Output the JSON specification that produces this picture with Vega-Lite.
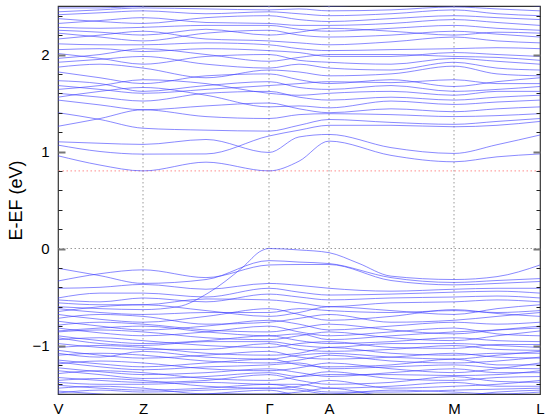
{
  "$schema": "https://vega.github.io/schema/vega-lite/v6.json",
  "width": 482,
  "height": 388,
  "autosize": "none",
  "padding": {"left": 58, "top": 6, "right": 10, "bottom": 24},
  "config": {"view": {"stroke": "#333333", "strokeWidth": 1.2}, "font": "Liberation Sans"},
  "datasets": {
    "bands": [
      {"b": "c1", "x": [0,42,85,148,211,241,271,333,396,439,482], "e": [0.956,0.86,0.80,0.89,0.80,0.90,1.107,0.96,0.894,0.945,0.975]},
      {"b": "c2", "x": [0,42,85,148,211,241,271,333,396,439,482], "e": [1.10,1.085,1.073,1.124,0.99,1.15,1.176,1.04,0.98,1.07,1.17]},
      {"b": "c3", "x": [0,42,85,148,211,241,271,333,396,439,482], "e": [1.066,1.00,0.973,0.975,1.16,1.22,1.27,1.27,1.255,1.27,1.31]},
      {"b": "c4", "x": [0,42,85,148,211,241,271,333,396,439,482], "e": [1.26,1.34,1.43,1.36,1.34,1.38,1.39,1.38,1.36,1.37,1.39]},
      {"b": "c5", "x": [0,42,85,148,211,241,271,333,396,439,482], "e": [1.40,1.33,1.24,1.22,1.21,1.27,1.33,1.30,1.28,1.31,1.34]},
      {"b": "u1", "x": [0,42,85,148,211,241,271,333,396,439,482], "e": [1.53,1.48,1.43,1.47,1.50,1.44,1.40,1.44,1.41,1.44,1.46]},
      {"b": "u2", "x": [0,42,85,148,211,241,271,333,396,439,482], "e": [1.56,1.62,1.66,1.58,1.46,1.47,1.45,1.52,1.485,1.51,1.53]},
      {"b": "u3", "x": [0,42,85,148,211,241,271,333,396,439,482], "e": [1.60,1.56,1.52,1.60,1.62,1.56,1.53,1.56,1.53,1.56,1.58]},
      {"b": "u4", "x": [0,42,85,148,211,241,271,333,396,439,482], "e": [1.64,1.68,1.74,1.70,1.60,1.58,1.60,1.62,1.58,1.62,1.62]},
      {"b": "u5", "x": [0,42,85,148,211,241,271,333,396,439,482], "e": [1.73,1.70,1.62,1.68,1.72,1.66,1.64,1.68,1.62,1.64,1.67]},
      {"b": "u6", "x": [0,42,85,148,211,241,271,333,396,439,482], "e": [1.82,1.76,1.70,1.78,1.80,1.74,1.70,1.74,1.67,1.72,1.76]},
      {"b": "u7", "x": [0,42,85,148,211,241,271,333,396,439,482], "e": [1.87,1.90,1.86,1.76,1.84,1.82,1.78,1.80,1.88,1.80,1.78]},
      {"b": "u8", "x": [0,42,85,148,211,241,271,333,396,439,482], "e": [1.92,1.95,1.98,1.90,1.86,1.90,1.86,1.84,1.92,1.86,1.84]},
      {"b": "u9", "x": [0,42,85,148,211,241,271,333,396,439,482], "e": [2.01,1.96,1.90,1.98,2.00,1.94,1.92,1.90,1.96,1.93,1.90]},
      {"b": "u10", "x": [0,42,85,148,211,241,271,333,396,439,482], "e": [2.05,2.06,2.03,2.06,2.04,2.02,1.98,1.98,2.02,2.00,1.98]},
      {"b": "u11", "x": [0,42,85,148,211,241,271,333,396,439,482], "e": [2.11,2.10,2.10,2.12,2.10,2.06,2.04,2.05,2.06,2.07,2.06]},
      {"b": "u12", "x": [0,42,85,148,211,241,271,333,396,439,482], "e": [2.16,2.20,2.24,2.16,2.14,2.12,2.10,2.13,2.18,2.14,2.12]},
      {"b": "u13", "x": [0,42,85,148,211,241,271,333,396,439,482], "e": [2.22,2.18,2.14,2.22,2.25,2.20,2.18,2.20,2.24,2.21,2.18]},
      {"b": "u14", "x": [0,42,85,148,211,241,271,333,396,439,482], "e": [2.28,2.27,2.28,2.30,2.30,2.26,2.24,2.27,2.30,2.27,2.25]},
      {"b": "u15", "x": [0,42,85,148,211,241,271,333,396,439,482], "e": [2.32,2.35,2.38,2.33,2.32,2.30,2.30,2.32,2.36,2.33,2.30]},
      {"b": "u16", "x": [0,42,85,148,211,241,271,333,396,439,482], "e": [2.37,2.34,2.32,2.38,2.40,2.36,2.34,2.37,2.40,2.38,2.36]},
      {"b": "u17", "x": [0,42,85,148,211,241,271,333,396,439,482], "e": [2.41,2.43,2.45,2.42,2.44,2.42,2.40,2.42,2.46,2.42,2.40]},
      {"b": "u18", "x": [0,42,85,148,211,241,271,333,396,439,482], "e": [2.44,2.46,2.48,2.47,2.46,2.47,2.45,2.46,2.49,2.47,2.45]},
      {"b": "u19", "x": [0,42,85,148,211,241,271,333,396,439,482], "e": [2.48,2.48,2.50,2.52,2.50,2.52,2.50,2.52,2.53,2.52,2.50]},
      {"b": "u20", "x": [0,42,85,148,211,241,271,333,396,439,482], "e": [1.96,2.00,2.06,2.00,1.93,1.97,2.00,2.00,1.98,1.97,1.94]},
      {"b": "u21", "x": [0,42,85,148,211,241,271,333,396,439,482], "e": [2.25,2.23,2.20,2.26,2.20,2.23,2.27,2.24,2.20,2.23,2.22]},
      {"b": "u22", "x": [0,42,85,148,211,241,271,333,396,439,482], "e": [1.68,1.64,1.60,1.64,1.68,1.70,1.72,1.71,1.74,1.70,1.70]},
      {"b": "v1", "x": [0,42,85,120,150,184,204,211,241,271,300,333,396,439,482], "e": [-0.60,-0.62,-0.63,-0.60,-0.46,-0.20,-0.02,0.0,-0.015,-0.043,-0.15,-0.285,-0.32,-0.29,-0.17]},
      {"b": "v2", "x": [0,42,85,148,211,241,271,333,396,439,482], "e": [-0.335,-0.26,-0.22,-0.30,-0.17,-0.165,-0.165,-0.33,-0.375,-0.36,-0.34]},
      {"b": "v3", "x": [0,42,85,148,211,241,271,333,396,439,482], "e": [-0.204,-0.28,-0.36,-0.32,-0.125,-0.14,-0.155,-0.30,-0.35,-0.33,-0.31]},
      {"b": "v4", "x": [0,42,85,148,211,241,271,333,396,439,482], "e": [-0.41,-0.40,-0.37,-0.42,-0.36,-0.38,-0.41,-0.44,-0.42,-0.41,-0.41]},
      {"b": "v5", "x": [0,42,85,148,211,241,271,333,396,439,482], "e": [-0.51,-0.46,-0.46,-0.50,-0.41,-0.45,-0.48,-0.47,-0.45,-0.44,-0.46]},
      {"b": "v6", "x": [0,42,85,148,211,241,271,333,396,439,482], "e": [-0.53,-0.55,-0.51,-0.55,-0.47,-0.50,-0.53,-0.51,-0.50,-0.49,-0.51]},
      {"b": "v7", "x": [0,42,85,148,211,241,271,333,396,439,482], "e": [-0.56,-0.58,-0.58,-0.52,-0.53,-0.56,-0.60,-0.56,-0.55,-0.53,-0.55]},
      {"b": "v8", "x": [0,42,85,148,211,241,271,333,396,439,482], "e": [-0.65,-0.60,-0.58,-0.64,-0.70,-0.66,-0.60,-0.64,-0.68,-0.62,-0.58]},
      {"b": "v9", "x": [0,42,85,148,211,241,271,333,396,439,482], "e": [-0.68,-0.73,-0.76,-0.70,-0.62,-0.68,-0.74,-0.70,-0.63,-0.67,-0.70]},
      {"b": "v10", "x": [0,42,85,148,211,241,271,333,396,439,482], "e": [-0.72,-0.68,-0.70,-0.78,-0.76,-0.72,-0.68,-0.76,-0.74,-0.70,-0.66]},
      {"b": "v11", "x": [0,42,85,148,211,241,271,333,396,439,482], "e": [-0.75,-0.80,-0.84,-0.80,-0.74,-0.78,-0.84,-0.80,-0.76,-0.78,-0.76]},
      {"b": "v12", "x": [0,42,85,148,211,241,271,333,396,439,482], "e": [-0.79,-0.76,-0.78,-0.84,-0.86,-0.82,-0.78,-0.84,-0.88,-0.84,-0.80]},
      {"b": "v13", "x": [0,42,85,148,211,241,271,333,396,439,482], "e": [-0.82,-0.87,-0.90,-0.86,-0.80,-0.86,-0.90,-0.86,-0.82,-0.88,-0.90]},
      {"b": "v14", "x": [0,42,85,148,211,241,271,333,396,439,482], "e": [-0.86,-0.84,-0.86,-0.92,-0.94,-0.90,-0.86,-0.92,-0.95,-0.90,-0.85]},
      {"b": "v15", "x": [0,42,85,148,211,241,271,333,396,439,482], "e": [-0.90,-0.95,-0.98,-0.95,-0.90,-0.95,-0.98,-0.96,-0.92,-0.95,-0.96]},
      {"b": "v16", "x": [0,42,85,148,211,241,271,333,396,439,482], "e": [-0.94,-0.92,-0.95,-1.00,-1.02,-0.98,-0.96,-1.02,-1.03,-0.99,-0.99]},
      {"b": "v17", "x": [0,42,85,148,211,241,271,333,396,439,482], "e": [-0.98,-1.02,-1.04,-1.04,-0.98,-1.04,-1.06,-1.04,-1.00,-1.04,-1.05]},
      {"b": "v18", "x": [0,42,85,148,211,241,271,333,396,439,482], "e": [-1.02,-1.00,-1.02,-1.08,-1.10,-1.08,-1.02,-1.08,-1.10,-1.08,-1.08]},
      {"b": "v19", "x": [0,42,85,148,211,241,271,333,396,439,482], "e": [-1.05,-1.10,-1.13,-1.10,-1.06,-1.12,-1.14,-1.12,-1.08,-1.12,-1.13]},
      {"b": "v20", "x": [0,42,85,148,211,241,271,333,396,439,482], "e": [-1.10,-1.08,-1.10,-1.16,-1.18,-1.15,-1.10,-1.16,-1.18,-1.16,-1.12]},
      {"b": "v21", "x": [0,42,85,148,211,241,271,333,396,439,482], "e": [-1.15,-1.19,-1.22,-1.18,-1.14,-1.20,-1.22,-1.20,-1.14,-1.20,-1.20]},
      {"b": "v22", "x": [0,42,85,148,211,241,271,333,396,439,482], "e": [-1.19,-1.16,-1.18,-1.24,-1.26,-1.23,-1.18,-1.24,-1.28,-1.24,-1.18]},
      {"b": "v23", "x": [0,42,85,148,211,241,271,333,396,439,482], "e": [-1.23,-1.27,-1.30,-1.28,-1.24,-1.28,-1.32,-1.28,-1.24,-1.28,-1.28]},
      {"b": "v24", "x": [0,42,85,148,211,241,271,333,396,439,482], "e": [-1.29,-1.26,-1.28,-1.34,-1.36,-1.32,-1.27,-1.34,-1.36,-1.33,-1.32]},
      {"b": "v25", "x": [0,42,85,148,211,241,271,333,396,439,482], "e": [-1.33,-1.36,-1.38,-1.36,-1.30,-1.36,-1.40,-1.38,-1.32,-1.37,-1.38]},
      {"b": "v26", "x": [0,42,85,148,211,241,271,333,396,439,482], "e": [-1.36,-1.34,-1.36,-1.42,-1.44,-1.42,-1.36,-1.44,-1.42,-1.40,-1.36]},
      {"b": "v27", "x": [0,42,85,148,211,241,271,333,396,439,482], "e": [-1.41,-1.44,-1.46,-1.44,-1.40,-1.44,-1.48,-1.48,-1.46,-1.45,-1.44]},
      {"b": "v28", "x": [0,42,85,148,211,241,271,333,396,439,482], "e": [-1.44,-1.42,-1.44,-1.50,-1.50,-1.48,-1.44,-1.52,-1.52,-1.48,-1.46]},
      {"b": "v29", "x": [0,42,85,148,211,241,271,333,396,439,482], "e": [-1.47,-1.50,-1.53,-1.50,-1.46,-1.52,-1.56,-1.54,-1.50,-1.54,-1.52]},
      {"b": "w1", "x": [0,42,85,148,211,241,271,333,396,439,482], "e": [-0.62,-0.66,-0.68,-0.66,-0.66,-0.62,-0.64,-0.66,-0.64,-0.66,-0.64]},
      {"b": "w2", "x": [0,42,85,148,211,241,271,333,396,439,482], "e": [-0.85,-0.82,-0.80,-0.86,-0.90,-0.88,-0.94,-0.90,-0.86,-0.84,-0.82]},
      {"b": "w3", "x": [0,42,85,148,211,241,271,333,396,439,482], "e": [-0.92,-0.98,-1.00,-0.96,-0.96,-1.00,-1.02,-0.98,-0.98,-1.00,-1.02]},
      {"b": "w4", "x": [0,42,85,148,211,241,271,333,396,439,482], "e": [-1.08,-1.12,-1.06,-1.12,-1.14,-1.10,-1.08,-1.12,-1.14,-1.10,-1.06]},
      {"b": "w5", "x": [0,42,85,148,211,241,271,333,396,439,482], "e": [-1.17,-1.22,-1.25,-1.22,-1.20,-1.18,-1.24,-1.22,-1.20,-1.23,-1.24]},
      {"b": "w6", "x": [0,42,85,148,211,241,271,333,396,439,482], "e": [-1.26,-1.30,-1.34,-1.32,-1.28,-1.32,-1.30,-1.30,-1.31,-1.30,-1.26]},
      {"b": "w7", "x": [0,42,85,148,211,241,271,333,396,439,482], "e": [-1.38,-1.40,-1.40,-1.38,-1.40,-1.40,-1.44,-1.42,-1.38,-1.42,-1.42]},
      {"b": "w8", "x": [0,42,85,148,211,241,271,333,396,439,482], "e": [-1.49,-1.46,-1.48,-1.46,-1.44,-1.46,-1.50,-1.46,-1.48,-1.50,-1.48]}
    ],
    "vlines": [{"x": 85}, {"x": 211}, {"x": 271}, {"x": 396}],
    "hlines": [{"e": 0, "c": "g"}, {"e": 0.8, "c": "r"}]
  },
  "layer": [
    {
      "data": {"name": "vlines"},
      "mark": {"type": "rule", "strokeDash": [1.5, 2.5], "color": "#9a9a9a", "strokeWidth": 1},
      "encoding": {
        "x": {"field": "x", "type": "quantitative", "scale": {"domain": [0, 482], "nice": false, "zero": false},
          "axis": {"values": [0, 85, 211, 271, 396, 482], "labelExpr": "datum.value == 0 ? 'V' : datum.value == 85 ? 'Z' : datum.value == 211 ? 'Γ' : datum.value == 271 ? 'A' : datum.value == 396 ? 'M' : 'L'",
            "ticks": false, "domain": false, "grid": false, "title": null, "labelFlush": false, "labelPadding": 7, "labelFontSize": 15, "labelColor": "#000000", "labelFont": "Liberation Sans"}}
      }
    },
    {
      "data": {"name": "hlines"},
      "mark": {"type": "rule", "strokeDash": [1.5, 2.5], "strokeWidth": 1},
      "encoding": {
        "y": {"field": "e", "type": "quantitative", "scale": {"domain": [-1.5, 2.5], "nice": false, "zero": false},
          "axis": {"orient": "right", "values": [-1.4,-1.2,-1,-0.8,-0.6,-0.4,-0.2,0,0.2,0.4,0.6,0.8,1,1.2,1.4,1.6,1.8,2,2.2,2.4], "labels": false, "domain": false, "grid": false, "title": null,
            "tickSize": -7,
            "tickDash": {"condition": {"test": "datum.value == -1 || datum.value == 0 || datum.value == 1 || datum.value == 2", "value": [10, 0]}, "value": [4, 10]},
            "tickColor": {"condition": {"test": "datum.value == -1 || datum.value == 0 || datum.value == 1 || datum.value == 2", "value": "#777777"}, "value": "#222222"},
            "tickWidth": {"condition": {"test": "datum.value == -1 || datum.value == 0 || datum.value == 1 || datum.value == 2", "value": 2}, "value": 1},
            "zindex": 2}},
        "color": {"field": "c", "type": "nominal", "scale": {"domain": ["g", "r"], "range": ["#9a9a9a", "#ff8c8c"]}, "legend": null}
      }
    },
    {
      "data": {"name": "bands"},
      "transform": [{"flatten": ["x", "e"]}],
      "mark": {"type": "line", "stroke": "#3a3aff", "strokeWidth": 0.8, "opacity": 0.75, "interpolate": "monotone", "clip": true},
      "encoding": {
        "x": {"field": "x", "type": "quantitative", "scale": {"domain": [0, 482], "nice": false, "zero": false},
          "axis": {"values": [0, 85, 211, 271, 396, 482], "labelExpr": "datum.value == 0 ? 'V' : datum.value == 85 ? 'Z' : datum.value == 211 ? 'Γ' : datum.value == 271 ? 'A' : datum.value == 396 ? 'M' : 'L'",
            "ticks": false, "domain": false, "grid": false, "title": null, "labelFlush": false, "labelPadding": 7, "labelFontSize": 15, "labelColor": "#000000", "labelFont": "Liberation Sans"}},
        "y": {"field": "e", "type": "quantitative", "scale": {"domain": [-1.5, 2.5], "nice": false, "zero": false},
          "axis": {"orient": "left", "values": [-1.4,-1.2,-1,-0.8,-0.6,-0.4,-0.2,0,0.2,0.4,0.6,0.8,1,1.2,1.4,1.6,1.8,2,2.2,2.4],
            "labelExpr": "datum.value == -1 ? '−1' : datum.value == 0 ? '0' : datum.value == 1 ? '1' : datum.value == 2 ? '2' : ''",
            "domain": false, "grid": false, "labelFontSize": 15, "labelColor": "#000000", "labelFont": "Liberation Sans", "labelPadding": 16,
            "tickSize": -7,
            "tickDash": {"condition": {"test": "datum.value == -1 || datum.value == 0 || datum.value == 1 || datum.value == 2", "value": [10, 0]}, "value": [4, 10]},
            "tickColor": {"condition": {"test": "datum.value == -1 || datum.value == 0 || datum.value == 1 || datum.value == 2", "value": "#777777"}, "value": "#222222"},
            "tickWidth": {"condition": {"test": "datum.value == -1 || datum.value == 0 || datum.value == 1 || datum.value == 2", "value": 2}, "value": 1},
            "title": "E-EF (eV)", "titleFontSize": 18, "titleFontWeight": "normal", "titleColor": "#000000", "titleFont": "Liberation Sans", "titlePadding": 6, "zindex": 2}},
        "detail": {"field": "b", "type": "nominal"}
      }
    }
  ],
  "resolve": {"axis": {"y": "independent"}}
}
